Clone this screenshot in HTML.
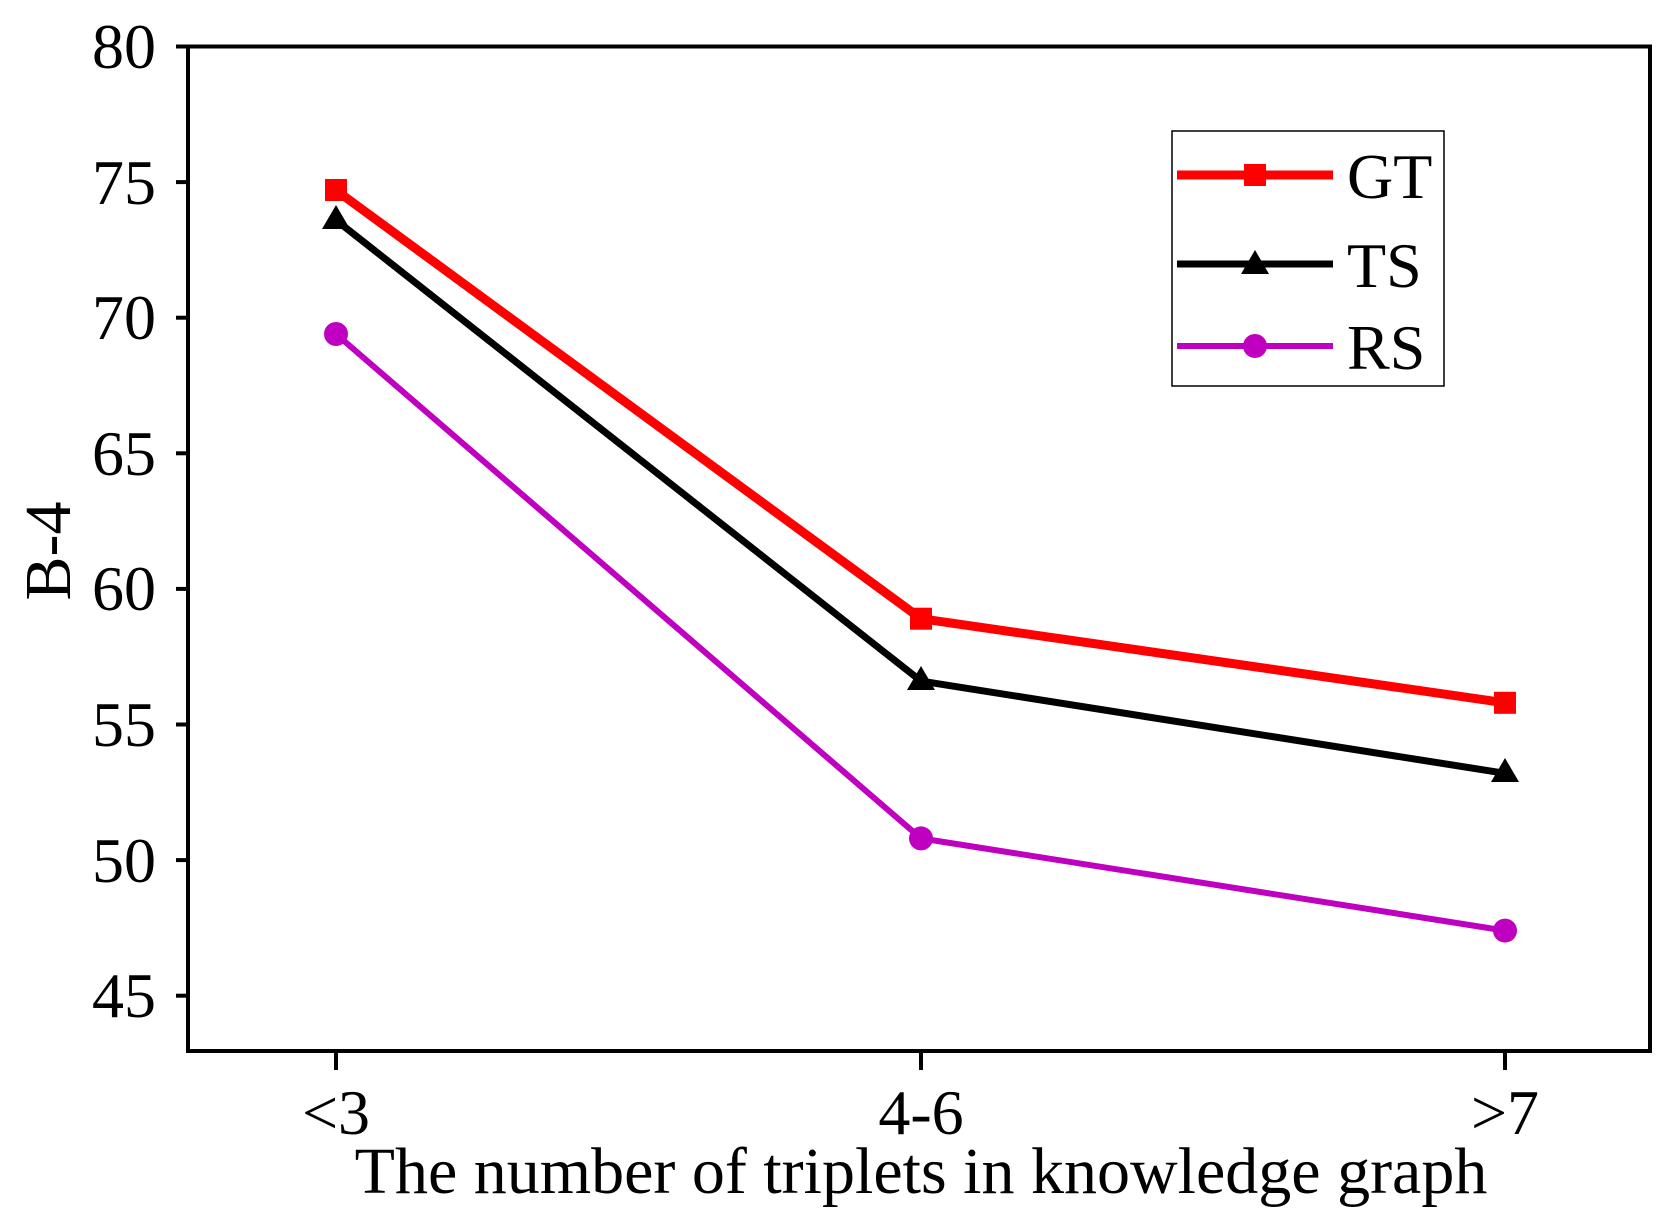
<!DOCTYPE html>
<html><head><style>body{margin:0;background:#fff}</style></head><body>
<svg width="1656" height="1214" xmlns="http://www.w3.org/2000/svg" font-family="Liberation Serif, serif">
<rect width="1656" height="1214" fill="#fff"/>
<g stroke="#000" stroke-width="4">
<rect x="188" y="46.5" width="1462" height="1004.5" fill="none"/>
<line x1="188" x2="176" y1="46.5" y2="46.5"/>
<line x1="188" x2="176" y1="182.1" y2="182.1"/>
<line x1="188" x2="176" y1="317.7" y2="317.7"/>
<line x1="188" x2="176" y1="453.3" y2="453.3"/>
<line x1="188" x2="176" y1="588.9" y2="588.9"/>
<line x1="188" x2="176" y1="724.5" y2="724.5"/>
<line x1="188" x2="176" y1="860.1" y2="860.1"/>
<line x1="188" x2="176" y1="995.7" y2="995.7"/>
<line x1="336" x2="336" y1="1051" y2="1070"/>
<line x1="921" x2="921" y1="1051" y2="1070"/>
<line x1="1505" x2="1505" y1="1051" y2="1070"/>
</g>
<g font-size="64" text-anchor="end">
<text x="156" y="68">80</text><text x="156" y="204">75</text><text x="156" y="339">70</text>
<text x="156" y="475">65</text><text x="156" y="610">60</text><text x="156" y="746">55</text>
<text x="156" y="882">50</text><text x="156" y="1017">45</text>
</g>
<g font-size="64" text-anchor="middle">
<text x="336" y="1134">&lt;3</text><text x="921" y="1134">4-6</text><text x="1505" y="1134">&gt;7</text>
<text x="921" y="1193" font-size="66">The number of triplets in knowledge graph</text>
<text transform="translate(70,551) rotate(-90)" font-size="66">B-4</text>
</g>
<polyline points="336,334 921,838.4 1505,930.6" fill="none" stroke="#c000c0" stroke-width="6"/>
<g fill="#c000c0"><circle cx="336" cy="334" r="12"/><circle cx="921" cy="838.4" r="12"/><circle cx="1505" cy="930.6" r="12"/></g>
<polyline points="336,220.1 921,681.1 1505,773.3" fill="none" stroke="#000" stroke-width="7"/>
<g fill="#000"><polygon points="336,205 322,229 350,229"/><polygon points="921,666 907,690 935,690"/><polygon points="1505,758 1491,782 1519,782"/></g>
<polyline points="336,190.2 921,618.7 1505,702.8" fill="none" stroke="#f00" stroke-width="9"/>
<g fill="#f00"><rect x="325" y="179" width="22" height="22"/><rect x="910" y="607.7" width="22" height="22"/><rect x="1494" y="691.8" width="22" height="22"/></g>
<rect x="1172" y="131" width="272" height="255" fill="#fff" stroke="#000" stroke-width="1.5"/>
<line x1="1177" x2="1333" y1="175" y2="175" stroke="#f00" stroke-width="9"/>
<rect x="1244" y="164" width="22" height="22" fill="#f00"/>
<line x1="1177" x2="1333" y1="264" y2="264" stroke="#000" stroke-width="7"/>
<polygon points="1255,250 1241,274 1269,274" fill="#000"/>
<line x1="1177" x2="1333" y1="346" y2="346" stroke="#c000c0" stroke-width="6"/>
<circle cx="1255" cy="346" r="12" fill="#c000c0"/>
<g font-size="64"><text x="1347" y="198">GT</text><text x="1347" y="287">TS</text><text x="1347" y="369">RS</text></g>
</svg>
</body></html>
